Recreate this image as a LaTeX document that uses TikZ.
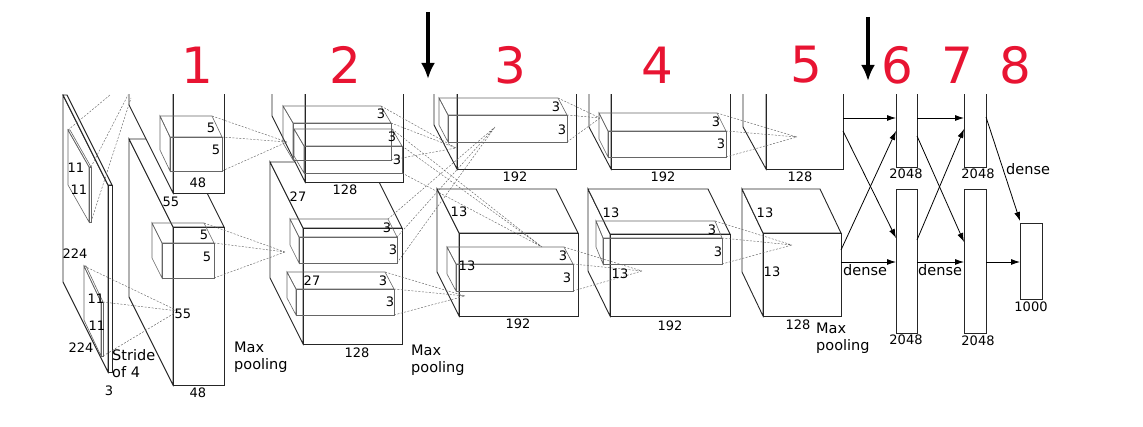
\documentclass[tikz,border=0pt]{standalone}
\usepackage{fontspec}
\setmainfont{DejaVu Sans}
\usetikzlibrary{arrows.meta}
\tikzset{
 blk/.style={draw=black!85,line width=0.9pt,fill=white,line join=miter},
 ker/.style={draw=black!60,line width=0.6pt},
 dsh/.style={draw=black!60,dashed,dash pattern=on 2pt off 1.5pt,line width=0.45pt},
 lab/.style={font=\fontsize{13}{13}\selectfont,inner sep=0pt},
 biglab/.style={font=\fontsize{14.5}{17}\selectfont,inner sep=0pt,align=left,anchor=west},
 num/.style={font=\fontsize{50}{50}\selectfont,text={rgb,255:red,232;green,20;blue,50},inner sep=0pt},
 arr/.style={-{Latex[length=9pt,width=6pt]},line width=0.8pt},
 fc/.style={draw=black!85,line width=0.9pt,fill=white}
}
% cuboid: x y w h dx dy style name
\newcommand\cub[8]{%
 \draw[#7] (#1,#2) -- ++(-#5,-#6) -- ++(0,#4) -- (#1,#2+#4) -- cycle;
 \draw[#7] (#1,#2) -- ++(-#5,-#6) -- ++(#3,0) -- (#1+#3,#2) -- cycle;
 \draw[#7] (#1,#2) rectangle ++(#3,#4);
 \coordinate (#8a) at (#1+#3-#5,#2-#6);
 \coordinate (#8b) at (#1+#3,#2);
 \coordinate (#8c) at (#1+#3,#2+#4);
 \coordinate (#8d) at (#1-#5,#2-#6);
}
\newcommand\fan[2]{\draw[dsh] (#1a) -- (#2) (#1b) -- (#2) (#1c) -- (#2);}
\begin{document}
\begin{tikzpicture}[x=1pt,y=-1pt]
\useasboundingbox (0,0) rectangle (1143,427);
\begin{scope}
\clip (0,95) rectangle (1143,427);
% input
\cub{108}{185}{4}{187}{45}{90}{blk}{in}
\cub{89}{167}{2}{55}{21}{37}{ker}{ku}
\cub{101}{302}{2}{54}{17}{36}{ker}{kl}
% layer 1
\cub{173}{227}{51}{158}{44}{88}{blk}{Ll}
\cub{173}{0}{51}{193}{44}{88}{blk}{Lu}
\cub{170}{137}{52}{34}{10}{21}{ker}{ka}
\cub{162}{243}{52}{35}{10}{20}{ker}{kb}
% layer 2
\cub{303}{228}{99}{116}{33}{66}{blk}{Ml}
\cub{305}{0}{98}{182}{33}{66}{blk}{Mu}
\cub{293}{123}{98}{37}{10}{17}{ker}{kc}
\cub{304}{146}{98}{27}{10}{17}{ker}{kd}
\cub{299}{237}{98}{26}{9}{18}{ker}{ke}
\cub{296}{289}{98}{26}{9}{17}{ker}{kf}
% layer 3
\cub{457}{0}{119}{169}{23}{44}{blk}{Nu}
\cub{459}{233}{119}{83}{22}{44}{blk}{Nl}
\cub{448}{115}{119}{27}{9}{17}{ker}{kg}
\cub{456}{264}{117}{27}{9}{17}{ker}{kh}
% layer 4
\cub{611}{0}{119}{169}{22}{42}{blk}{Pu}
\cub{610}{234}{120}{82}{22}{45}{blk}{Pl}
\cub{608}{131}{118}{26}{9}{18}{ker}{ki}
\cub{603}{238}{119}{26}{7}{17}{ker}{kj}
% layer 5
\cub{766}{0}{77}{169}{23}{42}{blk}{Qu}
\cub{763}{233}{78}{83}{21}{44}{blk}{Ql}
% dashed fans
\draw[dsh] (kud) -- (110,95) (kub) -- (128,95) (kuc) -- (131,98);
\coordinate (t1) at (178,311); \draw[dsh] (kld) -- (t1) (klb) -- (t1) (klc) -- (t1);
\coordinate (t2) at (287,142); \fan{ka}{t2}
\coordinate (t3) at (285,252); \fan{kb}{t3}
\coordinate (t4) at (456,148); \coordinate (t5) at (542,247);
\coordinate (t6) at (495,127); \coordinate (t7) at (465,296);
\fan{kc}{t4} \fan{kd}{t5} \fan{ke}{t6} \fan{kf}{t7}
\coordinate (t8) at (600,118); \fan{kg}{t8}
\coordinate (t9) at (642,271); \fan{kh}{t9}
\coordinate (t10) at (797,137); \fan{ki}{t10}
\coordinate (t11) at (792,245); \fan{kj}{t11}
% dense
\draw[fc] (896,0) rectangle (917,167); \draw[fc] (964,0) rectangle (986,167);
\end{scope}
\node[fc,minimum width=21pt,minimum height=144pt,inner sep=0pt,anchor=north west] (d6l) at (896,189) {};
\node[fc,minimum width=22pt,minimum height=144pt,inner sep=0pt,anchor=north west] (d7l) at (964,189) {};
\node[fc,minimum width=22pt,minimum height=76pt,inner sep=0pt,anchor=north west] (out) at (1020,223) {};
\coordinate (a1) at (843,118); \coordinate (b1) at (896,118);
\coordinate (a2) at (843,131); \coordinate (b2) at (896,238);
\coordinate (a3) at (841,250); \coordinate (b3) at (896,131);
\coordinate (a4) at (841,262); \coordinate (b4) at (896,262);
\coordinate (c1) at (917,118); \coordinate (e1) at (964,118);
\coordinate (c2) at (917,136); \coordinate (e2) at (964,242);
\coordinate (c3) at (917,240); \coordinate (e3) at (964,129);
\coordinate (c4) at (917,262); \coordinate (e4) at (964,262);
\coordinate (f1) at (986,117); \coordinate (g1) at (1020,221);
\coordinate (f2) at (986,262); \coordinate (g2) at (1020,262);
\foreach \p/\q in {a1/b1,a2/b2,a3/b3,a4/b4,c1/e1,c2/e2,c3/e3,c4/e4,f1/g1,f2/g2}
  \draw[arr] (\p) -- (\q);
% labels
\node[lab] at (76,168) {11}; \node[lab] at (79,190) {11};
\node[lab] at (96,299) {11}; \node[lab] at (97,326) {11};
\node[lab] at (75,254) {224}; \node[lab] at (81,348) {224};
\node[biglab] at (112,364) {Stride\\of 4};
\node[lab] at (109,391) {3};
\node[lab] at (183,314) {55}; \node[lab] at (171,202) {55};
\node[lab] at (211,128) {5}; \node[lab] at (216,150) {5};
\node[lab] at (204,235) {5}; \node[lab] at (207,257) {5};
\node[lab] at (198,183) {48}; \node[lab] at (198,393) {48};
\node[biglab] at (234,357) {Max\\pooling};
\node[lab] at (381,114) {3}; \node[lab] at (392,137) {3}; \node[lab] at (397,160) {3};
\node[lab] at (387,228) {3}; \node[lab] at (393,250) {3};
\node[lab] at (383,281) {3}; \node[lab] at (390,302) {3};
\node[lab] at (298,197) {27}; \node[lab] at (312,281) {27};
\node[lab] at (345,190) {128}; \node[lab] at (357,353) {128};
\node[biglab] at (411,360) {Max\\pooling};
\node[lab] at (556,107) {3}; \node[lab] at (562,130) {3};
\node[lab] at (563,256) {3}; \node[lab] at (567,278) {3};
\node[lab] at (459,212) {13}; \node[lab] at (467,266) {13};
\node[lab] at (515,177) {192}; \node[lab] at (518,324) {192};
\node[lab] at (716,122) {3}; \node[lab] at (721,144) {3};
\node[lab] at (712,230) {3}; \node[lab] at (718,252) {3};
\node[lab] at (611,213) {13}; \node[lab] at (620,274) {13};
\node[lab] at (663,177) {192}; \node[lab] at (670,326) {192};
\node[lab] at (765,213) {13}; \node[lab] at (772,272) {13};
\node[lab] at (800,177) {128}; \node[lab] at (798,325) {128};
\node[biglab] at (816,338) {Max\\pooling};
\node[lab] at (906,174) {2048}; \node[lab] at (978,174) {2048};
\node[lab] at (906,340) {2048}; \node[lab] at (978,341) {2048};
\node[lab] at (1031,307) {1000};
\node[biglab] at (843,270) {dense};
\node[biglab] at (918,270) {dense};
\node[biglab] at (1006,169) {dense};
% numbers
\foreach \t/\x in {1/197,2/345,3/510,4/657,5/806,6/897,7/957,8/1015}
  \node[num] (n\t) at (\x,65) {\t};
% black arrows
\coordinate (s1) at (428,12); \coordinate (s2) at (428,79);
\coordinate (s3) at (868,17); \coordinate (s4) at (868,81);
\draw[-{Latex[length=16pt,width=14pt]},line width=3.5pt] (s1) -- (s2);
\draw[-{Latex[length=16pt,width=14pt]},line width=3.5pt] (s3) -- (s4);
\end{tikzpicture}
\end{document}
